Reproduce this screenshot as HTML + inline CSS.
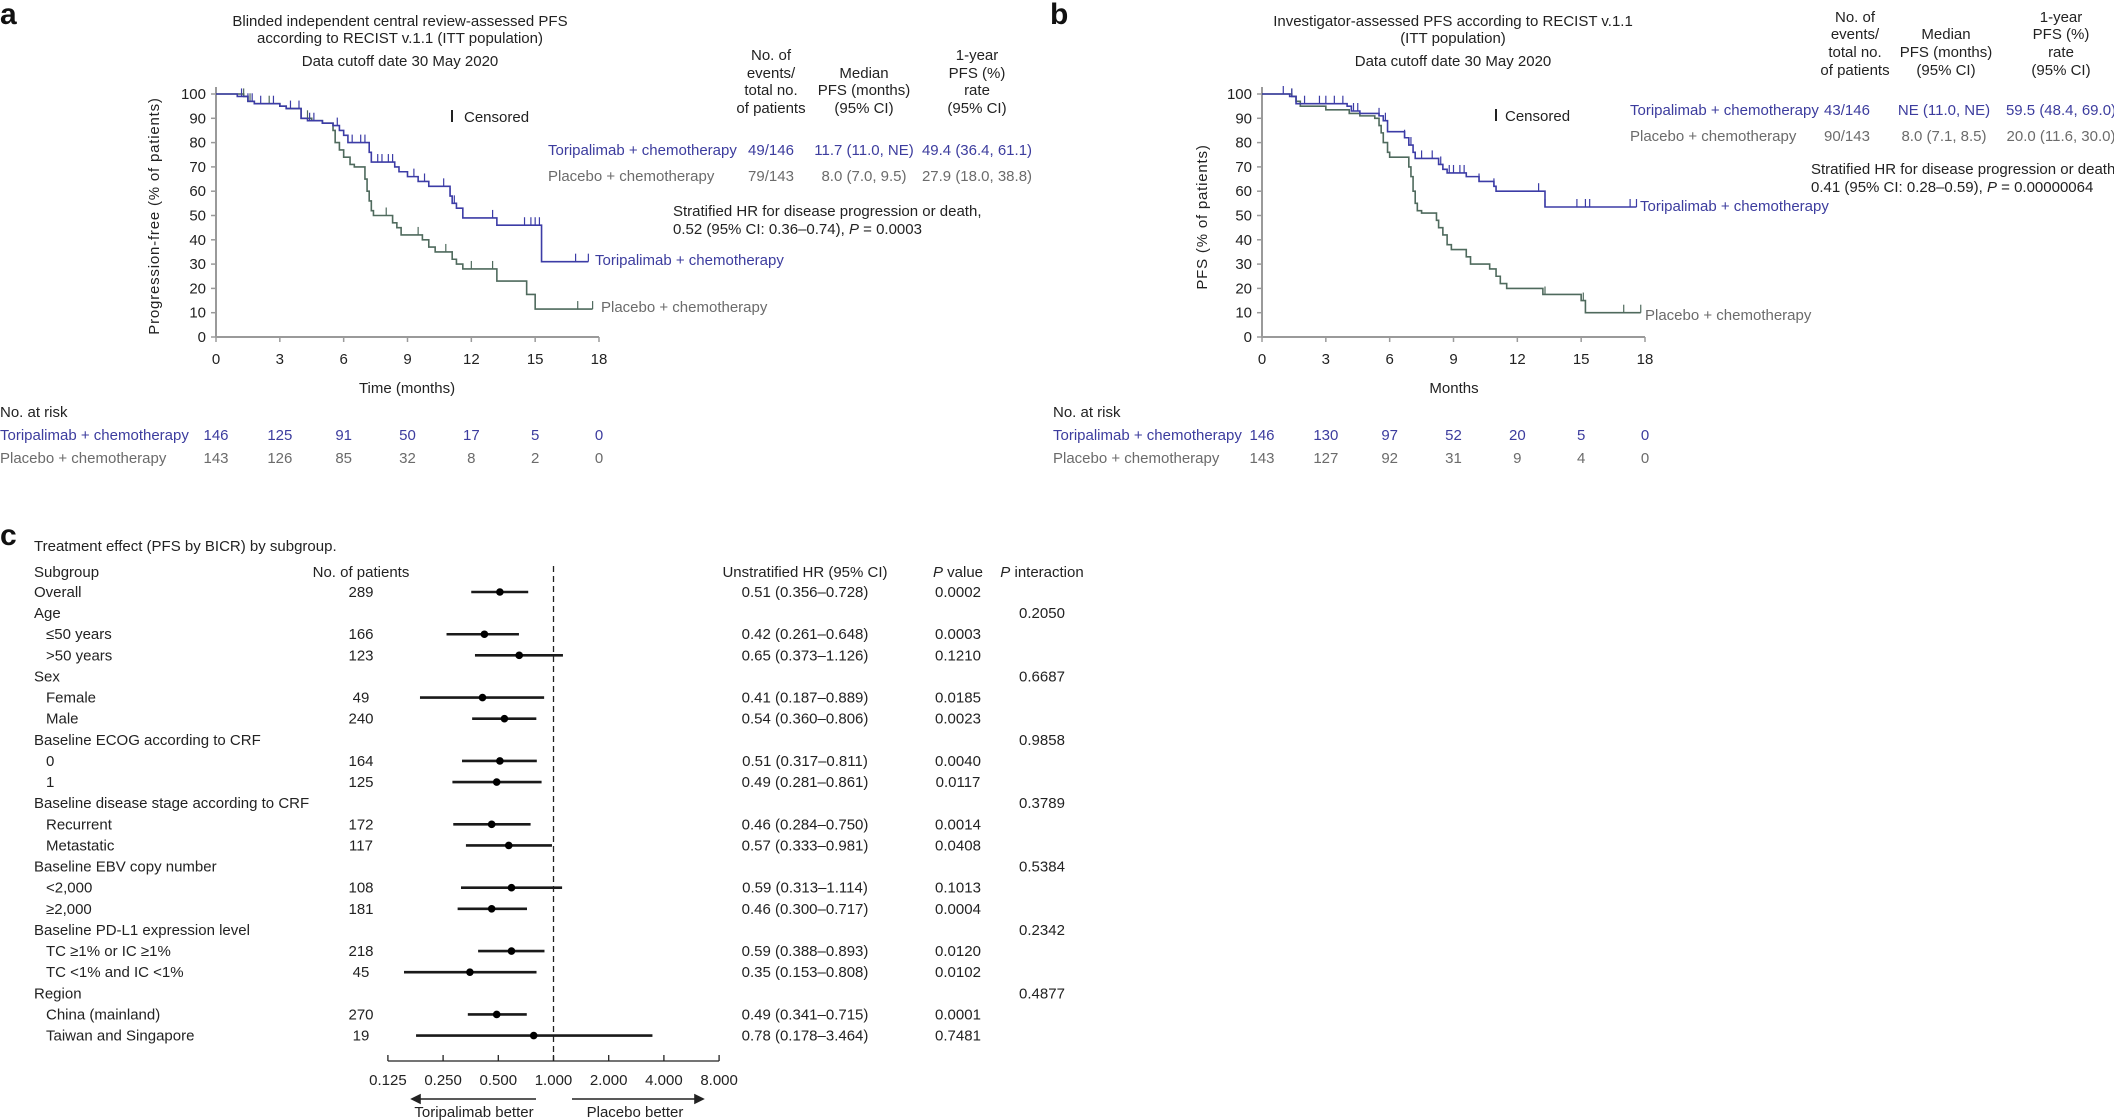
<!DOCTYPE html>
<html><head><meta charset="utf-8">
<style>
html,body{margin:0;padding:0;background:#fff;}
svg{display:block;font-family:"Liberation Sans",Arial,sans-serif;}
.t{font-size:15px;fill:#222;}
.bl{fill:#3c3c9e;}
.gr{fill:#6b6b6b;}
</style></head>
<body>
<svg id="fig" width="2114" height="1120" viewBox="0 0 2114 1120" xmlns="http://www.w3.org/2000/svg">
<!-- Panel labels -->
<text x="0" y="24" font-size="30" font-weight="bold" fill="#111">a</text>
<text x="1050" y="24" font-size="30" font-weight="bold" fill="#111">b</text>
<text x="0" y="545" font-size="30" font-weight="bold" fill="#111">c</text>

<!-- Panel a text -->
<g text-anchor="middle" class="t">
<text x="400" y="26" class="t">Blinded independent central review-assessed PFS</text>
<text x="400" y="43" class="t">according to RECIST v.1.1 (ITT population)</text>
<text x="400" y="66" class="t">Data cutoff date 30 May 2020</text>
</g>
<g text-anchor="middle">
<text x="771" y="60" class="t">No. of</text><text x="771" y="78" class="t">events/</text><text x="771" y="95" class="t">total no.</text><text x="771" y="113" class="t">of patients</text>
<text x="864" y="78" class="t">Median</text><text x="864" y="95" class="t">PFS (months)</text><text x="864" y="113" class="t">(95% CI)</text>
<text x="977" y="60" class="t">1-year</text><text x="977" y="78" class="t">PFS (%)</text><text x="977" y="95" class="t">rate</text><text x="977" y="113" class="t">(95% CI)</text>
</g>
<g>
<text x="548" y="155" class="t bl">Toripalimab + chemotherapy</text>
<text x="771" y="155" class="t bl" text-anchor="middle">49/146</text>
<text x="864" y="155" class="t bl" text-anchor="middle">11.7 (11.0, NE)</text>
<text x="977" y="155" class="t bl" text-anchor="middle">49.4 (36.4, 61.1)</text>
<text x="548" y="181" class="t gr">Placebo + chemotherapy</text>
<text x="771" y="181" class="t gr" text-anchor="middle">79/143</text>
<text x="864" y="181" class="t gr" text-anchor="middle">8.0 (7.0, 9.5)</text>
<text x="977" y="181" class="t gr" text-anchor="middle">27.9 (18.0, 38.8)</text>
</g>
<g>
<text x="673" y="216" class="t">Stratified HR for disease progression or death,</text>
<text x="673" y="234" class="t">0.52 (95% CI: 0.36–0.74), <tspan font-style="italic">P</tspan> = 0.0003</text>
</g>
<g>
<line x1="452" y1="110" x2="452" y2="122" stroke="#222" stroke-width="2"/>
<text x="464" y="122" class="t">Censored</text>
</g>
<text x="159" y="216" class="t" font-size="14" text-anchor="middle" transform="rotate(-90 159 216)" letter-spacing="0.8">Progression-free (% of patients)</text>
<text x="407" y="393" class="t" text-anchor="middle">Time (months)</text>
<text x="595" y="265" class="t bl">Toripalimab + chemotherapy</text>
<text x="601" y="312" class="t gr">Placebo + chemotherapy</text>
<g>
<text x="0" y="417" class="t">No. at risk</text>
<text x="0" y="440" class="t bl">Toripalimab + chemotherapy</text>
<text x="0" y="463" class="t gr">Placebo + chemotherapy</text>
</g>
<g id="kmA"></g>

<!-- Panel b text -->
<g text-anchor="middle">
<text x="1453" y="26" class="t">Investigator-assessed PFS according to RECIST v.1.1</text>
<text x="1453" y="43" class="t">(ITT population)</text>
<text x="1453" y="66" class="t">Data cutoff date 30 May 2020</text>
</g>
<g text-anchor="middle">
<text x="1855" y="22" class="t">No. of</text><text x="1855" y="39" class="t">events/</text><text x="1855" y="57" class="t">total no.</text><text x="1855" y="75" class="t">of patients</text>
<text x="1946" y="39" class="t">Median</text><text x="1946" y="57" class="t">PFS (months)</text><text x="1946" y="75" class="t">(95% CI)</text>
<text x="2061" y="22" class="t">1-year</text><text x="2061" y="39" class="t">PFS (%)</text><text x="2061" y="57" class="t">rate</text><text x="2061" y="75" class="t">(95% CI)</text>
</g>
<g>
<text x="1630" y="115" class="t bl">Toripalimab + chemotherapy</text>
<text x="1847" y="115" class="t bl" text-anchor="middle">43/146</text>
<text x="1944" y="115" class="t bl" text-anchor="middle">NE (11.0, NE)</text>
<text x="2061" y="115" class="t bl" text-anchor="middle">59.5 (48.4, 69.0)</text>
<text x="1630" y="141" class="t gr">Placebo + chemotherapy</text>
<text x="1847" y="141" class="t gr" text-anchor="middle">90/143</text>
<text x="1944" y="141" class="t gr" text-anchor="middle">8.0 (7.1, 8.5)</text>
<text x="2061" y="141" class="t gr" text-anchor="middle">20.0 (11.6, 30.0)</text>
</g>
<g>
<text x="1811" y="174" class="t">Stratified HR for disease progression or death,</text>
<text x="1811" y="192" class="t">0.41 (95% CI: 0.28–0.59), <tspan font-style="italic">P</tspan> = 0.00000064</text>
</g>
<g>
<line x1="1496" y1="109" x2="1496" y2="121" stroke="#222" stroke-width="2"/>
<text x="1505" y="121" class="t">Censored</text>
</g>
<text x="1207" y="217" class="t" font-size="14" text-anchor="middle" transform="rotate(-90 1207 217)" letter-spacing="0.8">PFS (% of patients)</text>
<text x="1454" y="393" class="t" text-anchor="middle">Months</text>
<text x="1640" y="211" class="t bl">Toripalimab + chemotherapy</text>
<text x="1645" y="320" class="t gr">Placebo + chemotherapy</text>
<g>
<text x="1053" y="417" class="t">No. at risk</text>
<text x="1053" y="440" class="t bl">Toripalimab + chemotherapy</text>
<text x="1053" y="463" class="t gr">Placebo + chemotherapy</text>
</g>
<g id="kmB"></g>

<!-- Panel c -->
<text x="34" y="551" class="t">Treatment effect (PFS by BICR) by subgroup.</text>
<g>
<text x="34" y="577" class="t">Subgroup</text>
<text x="361" y="577" class="t" text-anchor="middle">No. of patients</text>
<text x="805" y="577" class="t" text-anchor="middle">Unstratified HR (95% CI)</text>
<text x="958" y="577" class="t" text-anchor="middle"><tspan font-style="italic">P</tspan> value</text>
<text x="1042" y="577" class="t" text-anchor="middle"><tspan font-style="italic">P</tspan> interaction</text>
</g>
<g id="forest"></g>
</svg>

<script>
// ---------- KM data ----------
const kmTicks = [0,3,6,9,12,15,18];
const kmYTicks = [0,10,20,30,40,50,60,70,80,90,100];

const aToriTimes = [0,1.0,1.5,1.8,3.0,3.3,4.0,4.3,5.0,5.5,5.8,6.0,6.2,7.2,7.3,8.4,8.6,9.0,9.5,10.0,11.0,11.1,11.3,11.6,13.2,15.3];
const aToriSurv  = [100,99,97,96,95,94,90,89,88,87,85,83,80,76,72,70,68,66,64,62,58,55,53,49,46,31];
const aToriEnd = 17.5;
const aToriCens = [1.2,1.5,1.7,2.1,2.7,3.5,3.9,4.4,4.6,5.7,6.4,6.8,7.0,7.6,7.8,8.1,8.3,9.3,9.8,10.7,11.0,11.2,13.0,14.5,14.8,15.0,15.2,16.9,17.5];
const aPlaTimes = [0,1.3,1.5,1.8,3.0,3.3,4.0,4.5,5.0,5.5,5.6,5.8,6.0,6.3,6.5,7.0,7.1,7.2,7.3,7.4,8.3,8.5,8.7,9.7,10.0,10.3,11.1,11.3,11.6,13.2,14.6,15.0];
const aPlaSurv  = [100,99,97,96,95,94,90,89,88,85,80,77,74,71,70,65,60,56,52,50,47,45,42,40,37,35,32,30,28,23,17.5,11.5];
const aPlaEnd = 17.7;
const aPlaCens = [1.3,1.6,2.5,4.3,8.0,9.5,10.8,11.1,12.0,13.0,17.0,17.7];
const aRiskTori = [146,125,91,50,17,5,0];
const aRiskPla = [143,126,85,32,8,2,0];

const bToriTimes = [0,1.3,1.6,4.0,4.2,4.6,5.5,5.7,5.9,6.7,6.9,7.1,7.2,8.3,8.5,8.7,9.6,10.2,10.9,11.0,13.3];
const bToriSurv  = [100,99,96,95,93,92,91,89,84.5,82,79,76,73.5,71,69,67.5,66,64,62,60,53.5];
const bToriEnd = 17.6;
const bToriCens = [1.0,1.4,2.0,2.7,3.0,3.4,3.8,4.3,4.5,5.5,5.8,6.7,7.0,7.5,8.0,8.4,8.8,9.0,9.3,9.5,10.2,10.9,13.0,13.3,14.8,15.2,15.4,17.3,17.6];
const bPlaTimes = [0,1.4,1.6,1.8,3.0,4.1,4.6,5.3,5.5,5.6,5.7,5.9,6.0,6.9,7.0,7.1,7.2,7.3,7.5,8.2,8.3,8.5,8.7,8.9,9.6,9.8,10.7,11.0,11.2,11.5,13.2,15.0,15.2];
const bPlaSurv  = [100,99,97,95,93.5,92,91,90,87,84,80,76,74,70,66,60,55,52,51,48,45,42,38,36,33,30,28,25,22,20,17.5,15,10];
const bPlaEnd = 17.8;
const bPlaCens = [1.4,13.3,15.1,17.0,17.8];
const bRiskTori = [146,130,97,52,20,5,0];
const bRiskPla = [143,127,92,31,9,4,0];

// ---------- Forest data ----------
const fLabels = ["Overall","Age","≤50 years",">50 years","Sex","Female","Male","Baseline ECOG according to CRF","0","1","Baseline disease stage according to CRF","Recurrent","Metastatic","Baseline EBV copy number","<2,000","≥2,000","Baseline PD-L1 expression level","TC ≥1% or IC ≥1%","TC <1% and IC <1%","Region","China (mainland)","Taiwan and Singapore"];
const fIndent = [0,0,1,1,0,1,1,0,1,1,0,1,1,0,1,1,0,1,1,0,1,1];
const fN = ["289","","166","123","","49","240","","164","125","","172","117","","108","181","","218","45","","270","19"];
const fHR = [0.51,null,0.42,0.65,null,0.41,0.54,null,0.51,0.49,null,0.46,0.57,null,0.59,0.46,null,0.59,0.35,null,0.49,0.78];
const fLo = [0.356,null,0.261,0.373,null,0.187,0.360,null,0.317,0.281,null,0.284,0.333,null,0.313,0.300,null,0.388,0.153,null,0.341,0.178];
const fHi = [0.728,null,0.648,1.126,null,0.889,0.806,null,0.811,0.861,null,0.750,0.981,null,1.114,0.717,null,0.893,0.808,null,0.715,3.464];
const fP = ["0.0002","","0.0003","0.1210","","0.0185","0.0023","","0.0040","0.0117","","0.0014","0.0408","","0.1013","0.0004","","0.0120","0.0102","","0.0001","0.7481"];
const fPint = ["","0.2050","","","0.6687","","","0.9858","","","0.3789","","","0.5384","","","0.2342","","","0.4877","",""];
const fAxisTicks = [0.125,0.25,0.5,1,2,4,8];
const fAxisLabels = ["0.125","0.250","0.500","1.000","2.000","4.000","8.000"];

const NS = "http://www.w3.org/2000/svg";
function mk(tag, parent, attrs){ const e=document.createElementNS(NS,tag); for(const k in attrs) e.setAttribute(k,attrs[k]); parent.appendChild(e); return e; }

const BLUE="#3c3ca6", GREYLINE="#4f6a5d", AXIS="#9a9a9a";

function survAt(times, surv, t){ let s=surv[0]; for(let i=0;i<times.length;i++){ if(times[i]<=t) s=surv[i]; } return s; }

function drawKM(g, x0, x18, y0, y100, curves, riskT, riskP){
  const sx = m => x0 + (x18-x0)*m/18;
  const sy = v => y0 - (y0-y100)*v/100;
  let e=mk('line',g,{x1:x0,y1:y100-7,x2:x0,y2:y0,stroke:AXIS,'stroke-width':2});
   
  e=mk('line',g,{x1:x0,y1:y0,x2:x18,y2:y0,stroke:AXIS,'stroke-width':2});
   
  kmYTicks.forEach(v=>{
    const t=mk('line',g,{x1:x0-5,y1:sy(v),x2:x0,y2:sy(v),stroke:AXIS,'stroke-width':1.5});
     
    const l=mk('text',g,{x:x0-10,y:sy(v)+5,'text-anchor':'end',class:'t'}); l.textContent=v;
     
  });
  kmTicks.forEach((m,i)=>{
    const t=mk('line',g,{x1:sx(m),y1:y0,x2:sx(m),y2:y0+5,stroke:AXIS,'stroke-width':1.5});
     
    const l=mk('text',g,{x:sx(m),y:y0+27,'text-anchor':'middle',class:'t'}); l.textContent=m;
     
    const r1=mk('text',g,{x:sx(m),y:440,'text-anchor':'middle',class:'t bl'}); r1.textContent=riskT[i];
     
    const r2=mk('text',g,{x:sx(m),y:463,'text-anchor':'middle',class:'t gr'}); r2.textContent=riskP[i];
     
  });
  curves.forEach(c=>{
    let d='M'+sx(c.t[0])+','+sy(c.s[0]);
    for(let i=1;i<c.t.length;i++){ d+=' H'+sx(c.t[i])+' V'+sy(c.s[i]); }
    d+=' H'+sx(c.end);
    const p=mk('path',g,{d:d,fill:'none',stroke:c.col,'stroke-width':1.6});
     
    c.cens.forEach(t=>{
      const v=survAt(c.t,c.s,t);
      const k=mk('line',g,{x1:sx(t),y1:sy(v)-8,x2:sx(t),y2:sy(v),stroke:c.col,'stroke-width':1.2});
       
    });
  });
}

drawKM(document.getElementById('kmA'),216,599,337,94,[
  {t:aPlaTimes,s:aPlaSurv,end:aPlaEnd,cens:aPlaCens,col:GREYLINE,name:'placebo-curve'},
  {t:aToriTimes,s:aToriSurv,end:aToriEnd,cens:aToriCens,col:BLUE,name:'toripalimab-curve'}
],aRiskTori,aRiskPla);
drawKM(document.getElementById('kmB'),1262,1645,337,94,[
  {t:bPlaTimes,s:bPlaSurv,end:bPlaEnd,cens:bPlaCens,col:GREYLINE,name:'placebo-curve'},
  {t:bToriTimes,s:bToriSurv,end:bToriEnd,cens:bToriCens,col:BLUE,name:'toripalimab-curve'}
],bRiskTori,bRiskPla);

// ---------- Forest ----------
(function(){
  const g=document.getElementById('forest');
  const fx = v => 553.5 + 55.2*Math.log2(v);
  const rowY = i => 592 + 21.12*i;
  const axisY = 1061;
  let e=mk('line',g,{x1:fx(1),y1:566,x2:fx(1),y2:axisY,stroke:'#222','stroke-width':1.3,'stroke-dasharray':'6,4'});
   
  fLabels.forEach((lab,i)=>{
    const y=rowY(i)+5;
    let t=mk('text',g,{x:fIndent[i]?46:34,y:y,class:'t'}); t.textContent=lab;
     
    if(fN[i]){ t=mk('text',g,{x:361,y:y,'text-anchor':'middle',class:'t'}); t.textContent=fN[i];
        }
    if(fHR[i]!==null){
      t=mk('text',g,{x:805,y:y,'text-anchor':'middle',class:'t'});
      t.textContent=fHR[i].toFixed(2)+' ('+fLo[i].toFixed(3)+'–'+fHi[i].toFixed(3)+')';
       
      const ln=mk('line',g,{x1:fx(fLo[i]),y1:rowY(i),x2:fx(fHi[i]),y2:rowY(i),stroke:'#1a1a1a','stroke-width':2.6});
       
      const dot=mk('circle',g,{cx:fx(fHR[i]),cy:rowY(i),r:3.8,fill:'#000'});
       
    }
    if(fP[i]){ t=mk('text',g,{x:958,y:y,'text-anchor':'middle',class:'t'}); t.textContent=fP[i];
        }
    if(fPint[i]){ t=mk('text',g,{x:1042,y:y,'text-anchor':'middle',class:'t'}); t.textContent=fPint[i];
        }
  });
  e=mk('line',g,{x1:fx(0.125),y1:axisY,x2:fx(8),y2:axisY,stroke:'#222','stroke-width':1.3});
   
  fAxisTicks.forEach((v,i)=>{
    const k=mk('line',g,{x1:fx(v),y1:axisY-6,x2:fx(v),y2:axisY,stroke:'#222','stroke-width':1.3});
     
    const l=mk('text',g,{x:fx(v),y:axisY+24,'text-anchor':'middle',class:'t'}); l.textContent=fAxisLabels[i];
     
  });
  e=mk('path',g,{d:'M536,1099 H412 M412,1099 l8,-4 v8 z',stroke:'#222','stroke-width':1.6,fill:'#222'});
   
  e=mk('path',g,{d:'M572,1099 H697 M703,1099 l-8,-4 v8 z',stroke:'#222','stroke-width':1.6,fill:'#222'});
   
  let t=mk('text',g,{x:474,y:1117,'text-anchor':'middle',class:'t'}); t.textContent='Toripalimab better';
   
  t=mk('text',g,{x:635,y:1117,'text-anchor':'middle',class:'t'}); t.textContent='Placebo better';
   
})();
</script>
</body></html>
